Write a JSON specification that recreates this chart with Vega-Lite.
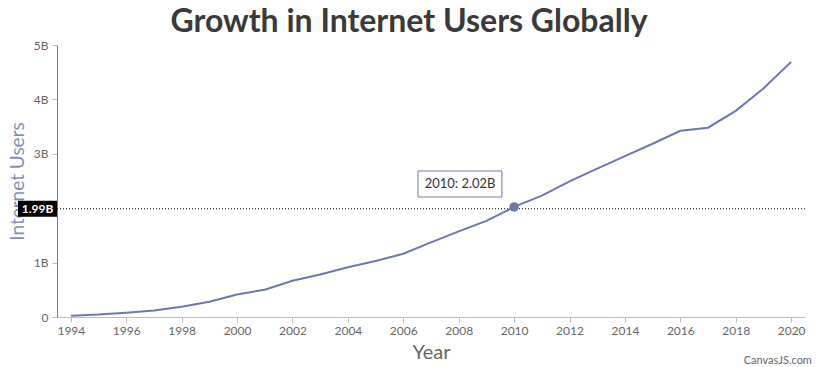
{
  "$schema": "https://vega.github.io/schema/vega-lite/v6.json",
  "width": 748,
  "height": 272,
  "autosize": {"type": "none"},
  "padding": {"left": 57, "top": 45, "right": 13, "bottom": 50},
  "background": "white",
  "config": {
    "view": {"stroke": null},
    "font": "Lato"
  },
  "title": {
    "text": "Growth in Internet Users Globally",
    "fontSize": 32,
    "fontWeight": "bold",
    "color": "#3A3A3A",
    "font": "Lato",
    "anchor": "middle",
    "dx": -22,
    "offset": 0
  },
  "layer": [
    {
      "data": {
        "values": [
          {"Year": 1994, "Users": 25000000},
          {"Year": 1995, "Users": 44000000},
          {"Year": 1996, "Users": 77000000},
          {"Year": 1997, "Users": 121000000},
          {"Year": 1998, "Users": 188000000},
          {"Year": 1999, "Users": 281000000},
          {"Year": 2000, "Users": 414000000},
          {"Year": 2001, "Users": 502000000},
          {"Year": 2002, "Users": 665000000},
          {"Year": 2003, "Users": 781000000},
          {"Year": 2004, "Users": 913000000},
          {"Year": 2005, "Users": 1030000000},
          {"Year": 2006, "Users": 1162000000},
          {"Year": 2007, "Users": 1373000000},
          {"Year": 2008, "Users": 1575000000},
          {"Year": 2009, "Users": 1766000000},
          {"Year": 2010, "Users": 2023000000},
          {"Year": 2011, "Users": 2231000000},
          {"Year": 2012, "Users": 2494000000},
          {"Year": 2013, "Users": 2728000000},
          {"Year": 2014, "Users": 2956000000},
          {"Year": 2015, "Users": 3185000000},
          {"Year": 2016, "Users": 3424000000},
          {"Year": 2017, "Users": 3480000000},
          {"Year": 2018, "Users": 3790000000},
          {"Year": 2019, "Users": 4200000000},
          {"Year": 2020, "Users": 4690000000}
        ]
      },
      "mark": {"type": "line", "color": "#6D78AD", "strokeWidth": 2},
      "encoding": {
        "x": {
          "field": "Year",
          "type": "quantitative",
          "scale": {"domain": [1993.5, 2020.5], "nice": false, "zero": false},
          "axis": {
            "title": "Year",
            "values": [1994, 1996, 1998, 2000, 2002, 2004, 2006, 2008, 2010, 2012, 2014, 2016, 2018, 2020],
            "format": "d",
            "grid": false,
            "domainColor": "#BBBBBB",
            "tickColor": "#BBBBBB",
            "tickSize": 5,
            "labelFontSize": 12,
            "labelColor": "#666666",
            "labelPadding": 3,
            "titleFontSize": 20,
            "titleFontWeight": "normal",
            "titleColor": "#666666",
            "titlePadding": 6
          }
        },
        "y": {
          "field": "Users",
          "type": "quantitative",
          "scale": {"domain": [0, 5000000000], "nice": false},
          "axis": {
            "title": "Internet Users",
            "values": [0, 1000000000, 3000000000, 4000000000, 5000000000],
            "labelExpr": "datum.value == 0 ? '0' : (datum.value / 1e9) + 'B'",
            "grid": false,
            "domainColor": "#6D78AD",
            "tickColor": "#BBBBBB",
            "tickSize": 5,
            "labelFontSize": 12,
            "labelColor": "#666666",
            "labelPadding": 4,
            "titleFontSize": 19,
            "titleFontWeight": "normal",
            "titleColor": "#6D78AD",
            "titleOpacity": 0.85,
            "titlePadding": 6
          }
        }
      }
    },
    {
      "data": {"values": [{"Users": 1990000000}]},
      "mark": {"type": "rule", "color": "black", "strokeDash": [1, 2], "strokeWidth": 1},
      "encoding": {
        "y": {"field": "Users", "type": "quantitative"}
      }
    },
    {
      "data": {"values": [{"Year": 2010, "Users": 2023000000}]},
      "mark": {"type": "point", "filled": true, "color": "#6D78AD", "size": 90, "opacity": 1},
      "encoding": {
        "x": {"field": "Year", "type": "quantitative"},
        "y": {"field": "Users", "type": "quantitative"}
      }
    },
    {
      "data": {"values": [{"Year": 2006.53, "Year2": 2009.56, "Users": 2206000000, "Users2": 2684000000}]},
      "mark": {"type": "rect", "fill": "white", "stroke": "#6D78AD", "strokeWidth": 1, "clip": false},
      "encoding": {
        "x": {"field": "Year", "type": "quantitative"},
        "x2": {"field": "Year2"},
        "y": {"field": "Users", "type": "quantitative"},
        "y2": {"field": "Users2"}
      }
    },
    {
      "data": {"values": [{"Year": 2008.05, "Users": 2445000000, "label": "2010: 2.02B"}]},
      "mark": {"type": "text", "fontSize": 13, "color": "#333333", "align": "center", "baseline": "middle", "clip": false},
      "encoding": {
        "x": {"field": "Year", "type": "quantitative"},
        "y": {"field": "Users", "type": "quantitative"},
        "text": {"field": "label"}
      }
    },
    {
      "data": {"values": [{"Year": 1992.09, "Year2": 1993.5, "Users": 1843000000, "Users2": 2137000000}]},
      "mark": {"type": "rect", "fill": "black", "clip": false},
      "encoding": {
        "x": {"field": "Year", "type": "quantitative"},
        "x2": {"field": "Year2"},
        "y": {"field": "Users", "type": "quantitative"},
        "y2": {"field": "Users2"}
      }
    },
    {
      "data": {"values": [{"Year": 1992.8, "Users": 1990000000, "label": "1.99B"}]},
      "mark": {"type": "text", "fontSize": 12, "fontWeight": "bold", "color": "white", "align": "center", "baseline": "middle", "clip": false},
      "encoding": {
        "x": {"field": "Year", "type": "quantitative"},
        "y": {"field": "Users", "type": "quantitative"},
        "text": {"field": "label"}
      }
    },
    {
      "data": {"values": [{"Year": 2020.75, "Users": -810000000, "label": "CanvasJS.com"}]},
      "mark": {"type": "text", "fontSize": 11, "color": "#666666", "align": "right", "baseline": "middle", "clip": false},
      "encoding": {
        "x": {"field": "Year", "type": "quantitative"},
        "y": {"field": "Users", "type": "quantitative"},
        "text": {"field": "label"}
      }
    }
  ]
}
